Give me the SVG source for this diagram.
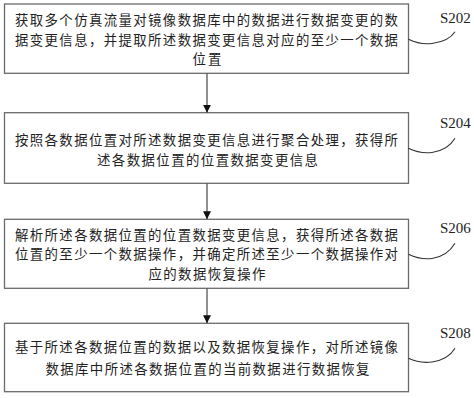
<svg xmlns="http://www.w3.org/2000/svg" width="474" height="398" viewBox="0 0 474 398">
<defs>
<marker id="ah" viewBox="0 0 8 8" markerWidth="8" markerHeight="8" refX="8" refY="4" orient="auto" markerUnits="userSpaceOnUse">
<path d="M0,0 L8,4 L0,8 Z" fill="#111"/>
</marker>
</defs>
<style>
.box{fill:#fff;stroke:#6a6a6a;stroke-width:1.3}
.t{font-family:"Noto Sans CJK SC","Noto Sans",sans-serif;font-size:13.4px;fill:#222;text-anchor:middle}
.lbl{font-family:"Liberation Serif","Times New Roman",serif;font-size:15px;fill:#222}
.lead{fill:none;stroke:#333;stroke-width:1.1}
.conn{stroke:#555;stroke-width:1.3;fill:none}
</style>
<rect width="474" height="398" fill="#fff"/>
<g id="n202">
<rect class="box" x="4.5" y="4" width="404" height="69.3"/>
<text class="t" x="206.5" y="25" textLength="383" lengthAdjust="spacing">获取多个仿真流量对镜像数据库中的数据进行数据变更的数</text>
<text class="t" x="206.5" y="44.6" textLength="383" lengthAdjust="spacing">据变更信息，并提取所述数据变更信息对应的至少一个数据</text>
<text class="t" x="207" y="64.2" textLength="29" lengthAdjust="spacing">位置</text>
<path class="lead" d="M408.5,39.3 C416,43 424,44.5 432,43.5 C443,42 451,38 455,31.7"/>
<text class="lbl" x="440" y="23">S202</text>
</g>
<g id="n204">
<rect class="box" x="4.5" y="112.7" width="404" height="70.6"/>
<text class="t" x="206.5" y="145" textLength="383" lengthAdjust="spacing">按照各数据位置对所述数据变更信息进行聚合处理，获得所</text>
<text class="t" x="207.5" y="165" textLength="221" lengthAdjust="spacing">述各数据位置的位置数据变更信息</text>
<path class="lead" d="M408.5,148.3 C416,152 424,153.5 432,152.5 C443,151 451,145 455,138.3"/>
<text class="lbl" x="440" y="128.3">S204</text>
</g>
<g id="n206">
<rect class="box" x="4.5" y="219.3" width="404" height="69"/>
<text class="t" x="206.5" y="239.6" textLength="383" lengthAdjust="spacing">解析所述各数据位置的位置数据变更信息，获得所述各数据</text>
<text class="t" x="206.5" y="259.2" textLength="383" lengthAdjust="spacing">位置的至少一个数据操作，并确定所述至少一个数据操作对</text>
<text class="t" x="207" y="278.8" textLength="117" lengthAdjust="spacing">应的数据恢复操作</text>
<path class="lead" d="M408.5,254.3 C416,258 424,259.5 432,258.5 C443,257 451,250 455,243.3"/>
<text class="lbl" x="440" y="233.3">S206</text>
</g>
<g id="n208">
<rect class="box" x="4.5" y="323.3" width="404" height="68.4"/>
<text class="t" x="206.5" y="352" textLength="383" lengthAdjust="spacing">基于所述各数据位置的数据以及数据恢复操作，对所述镜像</text>
<text class="t" x="207.5" y="374" textLength="324" lengthAdjust="spacing">数据库中所述各数据位置的当前数据进行数据恢复</text>
<path class="lead" d="M408.5,358.3 C416,362 424,363 432,362 C443,360.5 451,355 455,348.3"/>
<text class="lbl" x="440" y="338.3">S208</text>
</g>
<g id="connectors">
<line class="conn" x1="207" y1="73.3" x2="207" y2="112.7" marker-end="url(#ah)"/>
<line class="conn" x1="207" y1="183.3" x2="207" y2="219.3" marker-end="url(#ah)"/>
<line class="conn" x1="207" y1="288.3" x2="207" y2="323.3" marker-end="url(#ah)"/>
</g>
</svg>
